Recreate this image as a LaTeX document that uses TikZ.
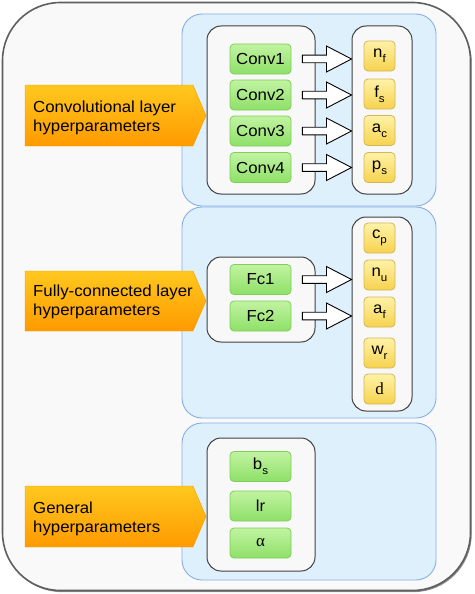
\documentclass[tikz,border=0pt]{standalone}
\usepackage{fontspec}
\setmainfont{Liberation Sans}[FakeStretch=1.05]
\newfontfamily\serifd{Liberation Serif}
\usetikzlibrary{shadows,calc}
\definecolor{outerfill}{HTML}{F9F9F9}
\definecolor{outerline}{HTML}{5E5E5E}
\definecolor{bluefill}{HTML}{DFF0FD}
\definecolor{blueline}{HTML}{86AEE6}
\definecolor{grpfill}{HTML}{F8F8F8}
\definecolor{grpline}{HTML}{404040}
\definecolor{greentop}{HTML}{C2F3A2}
\definecolor{greenbot}{HTML}{8EE068}
\definecolor{greenline}{HTML}{7DCF58}
\definecolor{yeltop}{HTML}{FFF2A8}
\definecolor{yelbot}{HTML}{F6D24E}
\definecolor{yelline}{HTML}{D6B656}
\definecolor{orangetop}{HTML}{FFC81E}
\definecolor{orangebot}{HTML}{FF9A00}
\definecolor{orangeline}{HTML}{F0A000}
\newcommand{\sbs}[1]{\raisebox{-0.32em}{\fontsize{11}{11}\selectfont #1}}
\newcommand{\blkarrow}[2]{%
  \draw[blockarrow] let \p1=(#1.east), \p2=(#1.east -| #2.west) in
    (\x1+11pt,\y1+3.8pt) -- (\x2-25pt,\y1+3.8pt) -- (\x2-25pt,\y1+13pt) --
    (\x2,\y1) -- (\x2-25pt,\y1-13pt) -- (\x2-25pt,\y1-3.8pt) --
    (\x1+11pt,\y1-3.8pt) -- cycle;}
\begin{document}
\begin{tikzpicture}[x=1pt,y=-1pt,
  outerbox/.style={draw=outerline, line width=1.6pt, fill=outerfill, rounded corners=58pt,
    drop shadow={shadow xshift=1.2pt, shadow yshift=-1.6pt, opacity=0.45, fill=black}},
  bluebox/.style={draw=blueline, line width=0.9pt, fill=bluefill, rounded corners=20pt, inner sep=0pt},
  groupbox/.style={draw=grpline, line width=1pt, fill=grpfill, rounded corners=14pt, inner sep=0pt},
  greenbox/.style={draw=greenline, line width=0.8pt, top color=greentop, bottom color=greenbot,
    rounded corners=4pt, minimum width=61pt, minimum height=30pt, inner sep=0pt,
    font=\fontsize{16}{18}\selectfont},
  yellowbox/.style={draw=yelline, line width=0.8pt, top color=yeltop, bottom color=yelbot,
    rounded corners=4pt, minimum width=31pt, minimum height=30pt, inner sep=0pt,
    font=\fontsize{16}{18}\selectfont},
  blockarrow/.style={draw=black, line width=0.9pt, fill=white, line join=miter},
  orangeshape/.style={top color=orangetop, bottom color=orangebot, draw=orangeline, line width=0.4pt},
  lbltext/.style={anchor=west, align=left, inner sep=0pt, font=\fontsize{16}{18.5}\selectfont}
]
\useasboundingbox (0,0) rectangle (474,594);

% outer container
\node[outerbox, minimum width=468pt, minimum height=588pt, inner sep=0pt] (outer) at (236.5,296.5) {};

% blue section panels
\node[bluebox, minimum width=254pt, minimum height=192pt] (blue1) at (309,110) {};
\node[bluebox, minimum width=254pt, minimum height=211pt] (blue2) at (309,312.5) {};
\node[bluebox, minimum width=254pt, minimum height=157pt] (blue3) at (309,501.5) {};

% group boxes
\node[groupbox, minimum width=108pt, minimum height=168pt] (cgrp) at (261,110) {};
\node[groupbox, minimum width=60pt, minimum height=168pt] (pgrp1) at (382,110) {};
\node[groupbox, minimum width=108pt, minimum height=85pt] (fgrp) at (261,299.5) {};
\node[groupbox, minimum width=60pt, minimum height=194pt] (pgrp2) at (382,314) {};
\node[groupbox, minimum width=108pt, minimum height=133pt] (ggrp) at (261,504.5) {};

% green items
\node[greenbox] (conv1) at (260.5,59) {Conv1};
\node[greenbox] (conv2) at (260.5,95) {Conv2};
\node[greenbox] (conv3) at (260.5,131) {Conv3};
\node[greenbox] (conv4) at (260.5,167.5) {Conv4};
\node[greenbox] (fc1) at (260.5,279.5) {Fc1};
\node[greenbox] (fc2) at (260.5,316) {Fc2};
\node[greenbox] (bs) at (260.5,466.5) {b\sbs{s}};
\node[greenbox] (lr) at (260.5,506) {lr};
\node[greenbox] (alpha) at (260.5,543) {{\serifd\fontsize{17}{18}\selectfont α}};

% yellow items
\node[yellowbox] (nf) at (379.5,56) {n\sbs{f}};
\node[yellowbox] (fs) at (379.5,94) {f\sbs{s}};
\node[yellowbox] (ac) at (379.5,130.5) {a\sbs{c}};
\node[yellowbox] (ps) at (379.5,167.5) {p\sbs{s}};
\node[yellowbox] (cp) at (379.5,238) {c\sbs{p}};
\node[yellowbox] (nu) at (379.5,275) {n\sbs{u}};
\node[yellowbox] (af) at (379.5,312) {a\sbs{f}};
\node[yellowbox] (wr) at (379.5,353) {w\sbs{r}};
\node[yellowbox] (dd) at (379.5,389) {{\serifd\fontsize{17}{18}\selectfont d}};

% block arrows
\blkarrow{conv1}{pgrp1}
\blkarrow{conv2}{pgrp1}
\blkarrow{conv3}{pgrp1}
\blkarrow{conv4}{pgrp1}
\blkarrow{fc1}{pgrp2}
\blkarrow{fc2}{pgrp2}

% orange labels
\path[orangeshape] (25,85) -- (193,85) -- (206,115.5) -- (193,146) -- (25,146) -- cycle;
\node[lbltext] (lab1) at (33,118) {Convolutional layer\\hyperparameters};
\path[orangeshape] (25,271) -- (193,271) -- (206,301) -- (193,331) -- (25,331) -- cycle;
\node[lbltext] (lab2) at (33,302) {Fully-connected layer\\hyperparameters};
\path[orangeshape] (25,486) -- (193,486) -- (206,516.5) -- (193,547) -- (25,547) -- cycle;
\node[lbltext] (lab3) at (33,519) {General\\hyperparameters};
\end{tikzpicture}
\end{document}
